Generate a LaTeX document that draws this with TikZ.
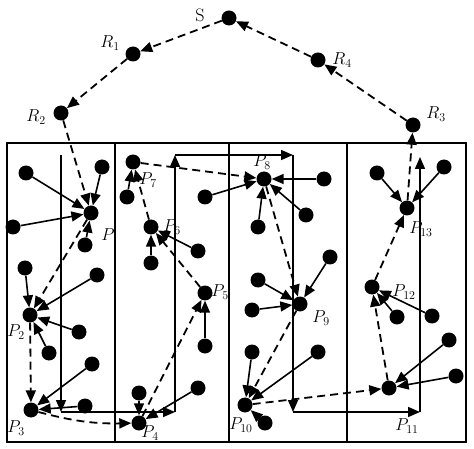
\documentclass[tikz,border=0pt]{standalone}
\usetikzlibrary{arrows.meta}
\tikzset{
  dot/.style={circle,fill=black,inner sep=0pt,minimum size=15pt},
  member/.style={line width=1.6pt,-{Triangle[length=12pt,width=10pt]}},
  hop/.style={line width=1.8pt,dash pattern=on 8pt off 5pt,-{Triangle[length=12pt,width=10pt]}},
  lbl/.style={font=\fontsize{18}{20}\selectfont,inner sep=0pt},
}
\begin{document}
\begin{tikzpicture}[x=1pt,y=-1pt]
\useasboundingbox (0,0) rectangle (474,449);
% field and lanes
\draw[line width=1.8pt] (7,143) rectangle (466,442);
\foreach \x in {115,229,347}
  \draw[line width=1.5pt] (\x,143) -- (\x,442);
\foreach \a/\b/\c/\d in {61/155/61/412,61/412/175/412,175/412/175/155,175/155/293/155,293/155/293/412,293/412/420/412,420/412/420/157}
  \draw[member] (\a,\b) -- (\c,\d);

% sink and relays
\node[dot] (S) at (229,18) {};
\node[dot] (R1) at (133,54) {};
\node[dot] (R2) at (61,113) {};
\node[dot] (R3) at (413,125) {};
\node[dot] (R4) at (318,60) {};
% cluster heads
\foreach \n/\x/\y in {P1/91/213,P2/30/315,P3/31/410,P4/139/423,P5/205/293,P6/151/227,P7/133/162,P8/264/179,P9/300/304,P10/245/405,P11/389/388,P12/372/287,P13/407/208}
  \node[dot] (\n) at (\x,\y) {};
% members
\foreach \x/\y/\h [count=\i] in {26/173/P1,102/167/P1,13/227/P1,85/245/P1,
  25/268/P2,97/275/P2,79/332/P2,49/353/P2,92/364/P3,85/406/P3,
  139/393/P4,198/388/P4,205/346/P5,151/263/P6,198/251/P6,127/197/P7,
  205/197/P8,324/179/P8,306/215/P8,258/227/P8,330/257/P9,258/280/P9,252/310/P9,
  252/352/P10,318/352/P10,265/423/P10,449/340/P11,456/376/P11,
  397/317/P12,432/316/P12,377/173/P13,444/167/P13}{
  \node[dot] (m\i) at (\x,\y) {};
  \draw[member] (m\i) -- (\h);
}

% data route
\foreach \a/\b in {S/R1,R1/R2,R2/P1,P1/P2,P2/P3,P4/P5,P5/P6,P6/P7,P7/P8,P8/P9,P9/P10,P10/P11,P11/P12,P12/P13,P13/R3,R3/R4,R4/S}
  \draw[hop] (\a) -- (\b);
\draw[hop] (P3) to[bend right=8] (P4);

% labels
\node[lbl] (lS) at (200,15) {S};
\node[lbl] (lR1) at (110,43) {$R_1$};
\node[lbl] (lR2) at (36,117) {$R_2$};
\node[lbl] (lR3) at (436,114) {$R_3$};
\node[lbl] (lR4) at (342,60) {$R_4$};
\node[lbl] (lP1) at (108,235) {$P$};
\foreach \n/\t/\x/\y in {lP2/2/16/332,lP3/3/16/428,lP4/4/150/433,lP5/5/220/292,lP6/6/172/227,lP7/7/148/180,lP8/8/262/162,lP9/9/321/318,lP10/10/241/425,lP11/11/407/426,lP12/12/404/292,lP13/13/421/229}
  \node[lbl] (\n) at (\x,\y) {$P_{\t}$};
\end{tikzpicture}
\end{document}
